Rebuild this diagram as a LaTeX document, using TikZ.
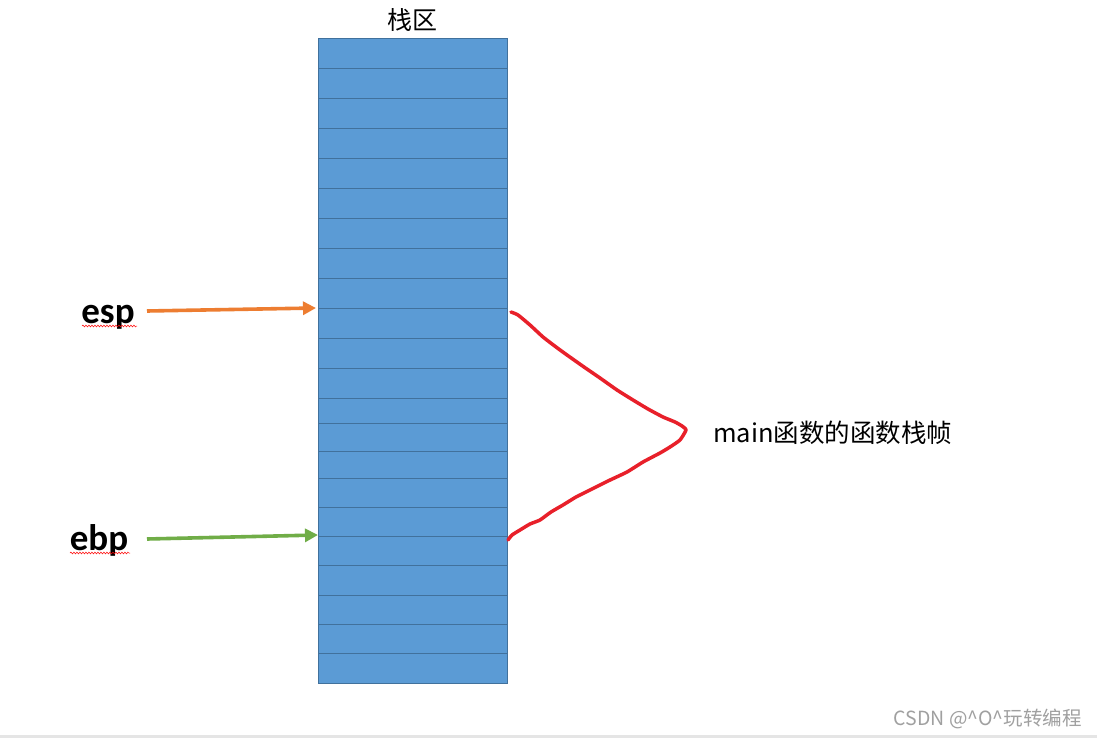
\documentclass[tikz,border=0pt]{standalone}
\usepackage{fontspec}
\setmainfont{Carlito}
\newfontfamily\cjk{Noto Sans CJK SC}
\usetikzlibrary{arrows.meta,decorations.pathmorphing}
\definecolor{stackfill}{HTML}{5B9BD5}
\definecolor{stackedge}{HTML}{41719C}
\definecolor{esporange}{HTML}{ED7D31}
\definecolor{ebpgreen}{HTML}{70AD47}
\definecolor{bracered}{HTML}{E8202A}
\definecolor{wmgray}{HTML}{A0A0A0}
\tikzset{
  regname/.style={font=\fontsize{37}{40}\selectfont\bfseries, inner sep=0pt, anchor=base},
  ptrarrow/.style={line width=3.6pt, -{Triangle[length=13pt,width=13pt]}},
  cell/.style={draw=stackedge, line width=0.9pt},
  squiggle/.style={draw=red, line width=0.5pt, decorate, decoration={snake, amplitude=0.9pt, segment length=3pt}},
}
\begin{document}
\begin{tikzpicture}[x=1pt,y=-1pt]
\useasboundingbox (0,0) rectangle (1097,738);
\fill[white] (0,0) rectangle (1097,738);
\fill[gray!20] (0,735) rectangle (1097,738);
% stack
\fill[stackfill] (318,38) rectangle (507,683);
\foreach \yy in {68,98,128,158,188,218,248,278,308,338,368,398,423,451,478,507,536,565,595,624,653}
  \draw[cell] (318,\yy) -- (507,\yy);
\draw[cell] (318,38) rectangle (507,683);
\node[font=\cjk\fontsize{25}{28}\selectfont, inner sep=0pt] (title) at (412,20) {栈区};
% pointers
\node[regname] (esp) at (108,323) {esp};
\node[regname] (ebp) at (99,550) {ebp};
\coordinate (espstart) at (147,311);
\coordinate (espend) at (316,308);
\coordinate (ebpstart) at (147,539);
\coordinate (ebpend) at (318,535);
\draw[ptrarrow, esporange] (espstart) -- (espend);
\draw[ptrarrow, ebpgreen] (ebpstart) -- (ebpend);
\draw[squiggle] (82,326) -- (137,326);
\draw[squiggle] (70,553) -- (130,553);
% brace
\draw[bracered, line width=3.5pt, line cap=round, line join=round]
  plot[smooth, tension=0.3] coordinates {(511,312) (518,315) (530,325) (543,337) (556,347) (567,355) (584,367) (600,378) (617,390) (633,400) (648,409) (663,417) (675,422) (682,426) (686,430) (680,440) (670,447) (660,453) (643,462) (627,472) (608,481) (590,490) (576,497) (563,505) (551,512) (540,520) (530,524) (520,530) (512,535) (508,540)};
\node[font=\cjk\fontsize{25.5}{28}\selectfont, inner sep=0pt, anchor=west] (label) at (713,433) {main函数的函数栈帧};
% watermark
\node[font=\cjk\fontsize{19.5}{22}\selectfont, text=wmgray, inner sep=0pt, anchor=east] (wm) at (1082,719) {CSDN @\^{}O\^{}玩转编程};
\end{tikzpicture}
\end{document}
